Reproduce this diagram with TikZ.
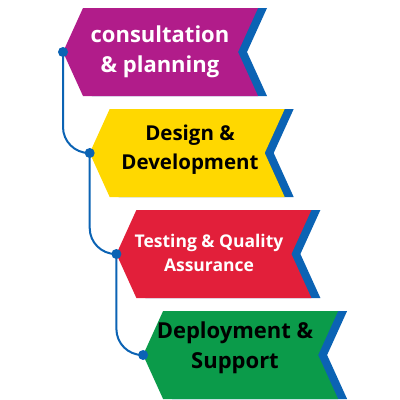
\documentclass[tikz,border=0pt]{standalone}
\usepackage{fontspec}
\setmainfont{Open Sans}
\definecolor{lineblue}{HTML}{0B63B4}
\definecolor{cpurple}{HTML}{B11C8A}
\definecolor{cyellow}{HTML}{FFD800}
\definecolor{cred}{HTML}{E21F3A}
\definecolor{cgreen}{HTML}{0B9B4A}
\begin{document}
\begin{tikzpicture}[x=1pt,y=-1pt,
    dot/.style={circle,fill=lineblue,inner sep=0pt,minimum size=10pt},
    link/.style={lineblue,line width=2pt,rounded corners=26pt},
    steptext/.style={align=center,font=\bfseries\fontsize{22}{30}\selectfont}]
    \clip (0,0) rectangle (400,400);
    \fill[white] (0,0) rectangle (400,400);
    % chevrons with blue edge behind
    \foreach \i/\col in {0/cpurple,1/cyellow,2/cred,3/cgreen}{
        \begin{scope}[shift={(63+26.7*\i,52+101*\i)}]
            \fill[lineblue] (29,-44) -- (204,-44) -- (184,0) -- (204,44) -- (29,44) -- (9,0) -- cycle;
            \fill[\col] (20,-44) -- (195,-44) -- (175,0) -- (195,44) -- (20,44) -- (0,0) -- cycle;
        \end{scope}
    }
    \node[steptext,white] (consult) at (160,52) {consultation\\\& planning};
    \node[steptext,black,font=\bfseries\fontsize{20.5}{29}\selectfont] (design) at (190,150) {Design \&\\Development};
    \node[steptext,white,font=\bfseries\fontsize{17.5}{24}\selectfont] (testing) at (209,253) {Testing \& Quality\\Assurance};
    \node[steptext,black] (deploy) at (235,348) {Deployment \&\\Support};
    % timeline
    \node[dot] (d1) at (63,52) {};
    \node[dot] (d2) at (89.7,153) {};
    \node[dot] (d3) at (116.4,254) {};
    \node[dot] (d4) at (143.1,355) {};
    \draw[link] (d1.center) |- (d2.center);
    \draw[link] (d2.center) |- (d3.center);
    \draw[link] (d3.center) |- (d4.center);
\end{tikzpicture}
\end{document}
